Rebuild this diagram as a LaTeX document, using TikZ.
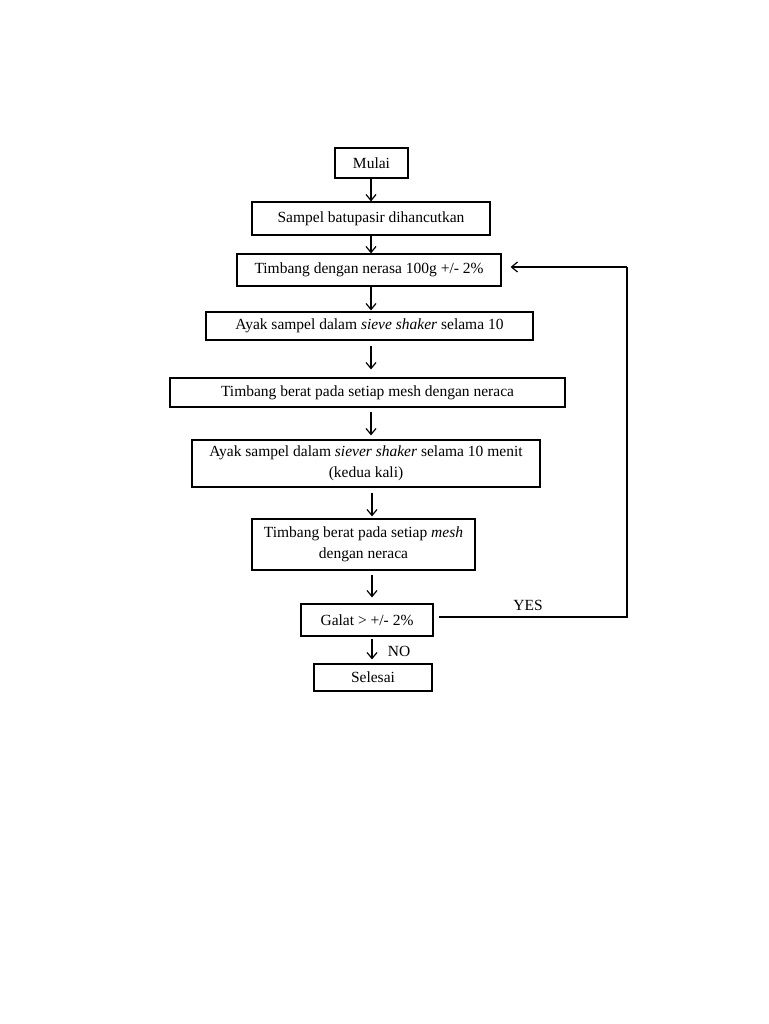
\documentclass[tikz,border=0pt]{standalone}
\usepackage{fontspec}
\setmainfont{Liberation Serif}
\usetikzlibrary{arrows.meta}
\begin{document}
\begin{tikzpicture}[x=1pt,y=-1pt,
  box/.style={draw,line width=1.2pt,inner sep=0pt,align=center,font=\fontsize{15.5}{20.5}\selectfont},
  lbl/.style={inner sep=0pt,font=\fontsize{15.5}{20.5}\selectfont},
  arr/.style={line width=1.2pt,-{Straight Barb[length=6pt,width=10pt,line width=1.2pt]}},
  ln/.style={line width=1.2pt}]
\useasboundingbox[fill=white] (0,0) rectangle (768,1024);
\node[box,minimum width=73pt,minimum height=30pt] (mulai) at (371.5,163) {Mulai};
\node[box,minimum width=238pt,minimum height=33pt] (sampel) at (371,218.5) {Sampel batupasir dihancutkan};
\node[box,minimum width=264pt,minimum height=32pt] (timbang) at (369,270) {Timbang dengan nerasa 100g +/- 2\%};
\node[box,minimum width=327pt,minimum height=28pt] (ayak1) at (369.5,326) {Ayak sampel dalam \textit{sieve shaker} selama 10};
\node[box,minimum width=395pt,minimum height=29pt] (berat1) at (367.5,392.5) {Timbang berat pada setiap mesh dengan neraca};
\node[box,minimum width=348pt,minimum height=47pt] (ayak2) at (366,463.5) {Ayak sampel dalam \textit{siever shaker} selama 10 menit\\(kedua kali)};
\node[box,minimum width=223pt,minimum height=51pt] (berat2) at (363.5,544.5) {Timbang berat pada setiap \textit{mesh}\\dengan neraca};
\node[box,minimum width=132pt,minimum height=32pt] (galat) at (367,620) {Galat > +/- 2\%};
\node[box,minimum width=118pt,minimum height=27pt] (selesai) at (373,677.5) {Selesai};
\coordinate (col) at (371,0);
\coordinate (colb) at (372,0);
\draw[arr] (mulai.south -| col) -- (sampel.north -| col);
\draw[arr] (sampel.south -| col) -- (timbang.north -| col);
\draw[arr] (timbang.south -| col) -- ([yshift=1pt]ayak1.north -| col);
\draw[arr,shorten <=5pt,shorten >=8pt] (ayak1.south -| col) -- (berat1.north -| col);
\draw[arr,shorten <=4pt,shorten >=4pt] (berat1.south -| col) -- (ayak2.north -| col);
\draw[arr,shorten <=5pt,shorten >=2pt] (ayak2.south -| colb) -- (berat2.north -| colb);
\draw[arr,shorten <=4pt,shorten >=6pt] (berat2.south -| colb) -- (galat.north -| colb);
\draw[arr,shorten <=2pt,shorten >=4pt] (galat.south -| colb) -- (selesai.north -| colb);
\node[lbl] (no) at (399,651) {NO};
\coordinate (start) at ([xshift=5pt,yshift=3pt]galat.east);
\coordinate (corner) at (627,617);
\coordinate (top) at (627,267);
\coordinate (tip) at ([xshift=9pt,yshift=3pt]timbang.east);
\draw[ln] (start) -- (corner) -- (top);
\draw[arr] (top) -- (tip);
\node[lbl] (yes) at (528,605) {YES};
\end{tikzpicture}
\end{document}
